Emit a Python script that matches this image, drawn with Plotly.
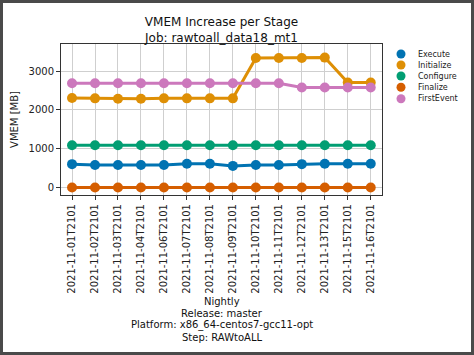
import plotly.graph_objects as go

dates = ["2021-11-01T2101", "2021-11-02T2101", "2021-11-03T2101", "2021-11-04T2101",
         "2021-11-06T2101", "2021-11-07T2101", "2021-11-08T2101", "2021-11-09T2101",
         "2021-11-10T2101", "2021-11-11T2101", "2021-11-12T2101", "2021-11-13T2101",
         "2021-11-15T2101", "2021-11-16T2101"]

execute = [605, 585, 585, 585, 585, 615, 615, 560, 585, 585, 605, 615, 615, 615]
execute_err = [40] * 14
initialize = [2310, 2300, 2290, 2290, 2300, 2300, 2300, 2300, 3340, 3340, 3340, 3350, 2710, 2710]
configure = [1090] * 14
finalize = [5] * 14
firstevent = [2690, 2690, 2690, 2690, 2690, 2690, 2690, 2690, 2690, 2690, 2580, 2580, 2580, 2580]

series_names = ["Execute", "Initialize", "Configure", "Finalize", "FirstEvent"]
series_values = [execute, initialize, configure, finalize, firstevent]
series_colors = ["#0173b2", "#de8f05", "#029e73", "#d55e00", "#cc78bc"]

x_idx = list(range(len(dates)))
font_family = "DejaVu Sans"

fig = go.Figure()
for name, vals, color in zip(series_names, series_values, series_colors):
    kw = {}
    if name == "Execute":
        kw["error_y"] = dict(type="data", array=execute_err, visible=True,
                             color="rgba(200,225,245,0.8)", thickness=1.2, width=0)
    fig.add_trace(go.Scatter(x=x_idx, y=vals, mode="lines+markers", name=name,
                             line=dict(color=color, width=3),
                             marker=dict(color=color, size=10),
                             showlegend=False, **kw))

W, H = 474, 355
ml, mr, mt, mb = 61, 92, 44, 160
pw, ph = W - ml - mr, H - mt - mb

def px_x(x):
    return (x - ml) / pw

def px_y(y):
    return (H - mb - y) / ph

fig.update_layout(
    width=W, height=H,
    margin=dict(l=ml, r=mr, t=mt, b=mb, autoexpand=False),
    paper_bgcolor="white", plot_bgcolor="white",
    showlegend=False,
    font=dict(family=font_family, color="#222", size=10),
    title=dict(text="VMEM Increase per Stage<br>Job: rawtoall_data18_mt1",
               x=(ml + pw / 2) / W, xanchor="center", y=1 - 26 / H, yanchor="middle",
               font=dict(size=12, color="#111")),
    xaxis=dict(tickmode="array", tickvals=x_idx, ticktext=dates, tickangle=-90,
               range=[-0.48, 13.49], showgrid=True, gridcolor="#cfcfcf", gridwidth=1,
               showline=True, linecolor="#333", linewidth=1, mirror=True,
               ticks="outside", ticklen=4, tickcolor="#333", zeroline=False,
               tickfont=dict(size=10), automargin=False),
    yaxis=dict(range=[-190, 3700], tickvals=[0, 1000, 2000, 3000],
               showgrid=True, gridcolor="#cfcfcf", gridwidth=1,
               showline=True, linecolor="#333", linewidth=1, mirror=True,
               ticks="outside", ticklen=4, tickcolor="#333", zeroline=False,
               title=dict(text="VMEM [MB]", font=dict(size=10), standoff=8),
               tickfont=dict(size=10), automargin=False),
)

# legend drawn as marker dots + text labels (matplotlib-style compact spacing)
leg_x_marker = 401
leg_x_text = 416
leg_rows = [54, 65, 76, 87.3, 98.7]
for name, color, yy in zip(series_names, series_colors, leg_rows):
    fig.add_shape(type="circle", xref="paper", yref="paper",
                  xsizemode="pixel", ysizemode="pixel",
                  xanchor=px_x(leg_x_marker), yanchor=px_y(yy),
                  x0=-4.5, x1=4.5, y0=-4.5, y1=4.5,
                  fillcolor=color, line=dict(width=0))
    fig.add_annotation(text=name, xref="paper", yref="paper",
                       x=px_x(leg_x_text), y=px_y(yy), xanchor="left", yanchor="middle",
                       showarrow=False, font=dict(size=8, color="#222"))

bottom_lines = ["Nightly", "Release: master", "Platform: x86_64-centos7-gcc11-opt", "Step: RAWtoALL"]
bottom_y = [301, 313, 325, 337]
for txt, yy in zip(bottom_lines, bottom_y):
    fig.add_annotation(text=txt, xref="paper", yref="paper",
                       x=0.5, y=px_y(yy),
                       xanchor="center", yanchor="middle", showarrow=False,
                       font=dict(size=10, color="#111"))

# dark frame around the whole image
fig.add_shape(type="rect", xref="paper", yref="paper",
              x0=-ml / pw, x1=1 + mr / pw, y0=-mb / ph, y1=1 + mt / ph,
              line=dict(color="#4a4a4a", width=6), fillcolor="rgba(0,0,0,0)", layer="above")

fig.write_html("out.html", config={"displayModeBar": False},
               post_script="document.body.style.margin='0';document.body.style.padding='0';")
